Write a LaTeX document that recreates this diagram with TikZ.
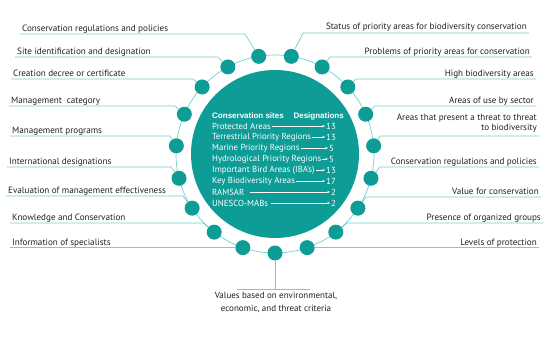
\documentclass[tikz,border=0pt]{standalone}
\usepackage{fontspec}
\setmainfont{PT Sans}
\newfontfamily\headfont{Liberation Sans}
\usetikzlibrary{arrows.meta,calc}
\definecolor{Teal}{HTML}{0E9C96}
\definecolor{Wire}{HTML}{72CFCA}
\definecolor{Ink}{HTML}{231F20}
\tikzset{hub/.style={circle,fill=Teal,minimum size=168pt,inner sep=0pt},
  dot/.style={circle,fill=Teal,minimum size=15pt,inner sep=0pt},
  wire/.style={draw=Wire,line width=0.7pt},
  lbl/.style={font=\fontsize{9.1}{10}\selectfont,text=Ink,inner xsep=2pt,inner ysep=0pt},
  lbll/.style={lbl,anchor=base west},
  lblr/.style={lbl,anchor=base east,align=right},
  site/.style={font=\fontsize{8.8}{9}\selectfont,text=white,inner xsep=1pt,inner ysep=0pt,anchor=west},
  head/.style={site,font=\headfont\fontsize{8}{9}\selectfont\bfseries},
  num/.style={site,anchor=east},
  tally/.style={-{Stealth[length=2.6pt,width=2.4pt]},draw=white,line width=0.45pt}}
\begin{document}
\begin{tikzpicture}[x=1pt,y=-1pt]
  \useasboundingbox (0,0) rectangle (550,356);
  \coordinate (ctr) at (275,154);
  \draw[wire] (ctr) circle[radius=99];
  \node[hub] (hub) at (ctr) {};
  \foreach \k in {0,...,18}
    \node[dot] (d\k) at ($(ctr)+({90-\k*360/19}:99)$) {};

  % left side
  \node[lbll] (t10) at (20,31) {Conservation regulations and policies};
  \node[lbll] (t11) at (15,54) {Site identification and designation};
  \node[lbll] (t12) at (11,76) {Creation decree or certificate};
  \node[lbll] (t13) at (9,103) {Management\ \ category};
  \node[lbll] (t14) at (10,133) {Management programs};
  \node[lbll] (t15) at (7,164) {International designations};
  \node[lbll] (t16) at (6,193) {Evaluation of management effectiveness};
  \node[lbll] (t17) at (10,220) {Knowledge and Conservation};
  \node[lbll] (t18) at (10,245) {Information of specialists};
  \coordinate (k10) at (245,34);
  \coordinate (k11) at (218,57);
  \coordinate (k12) at (193,79);
  \coordinate (k13) at (175,106);
  \coordinate (k14) at (170,136);
  \coordinate (k15) at (171,167);
  \coordinate (k16) at (183,196);
  \coordinate (k17) at (203,223);
  \draw[wire] (d10) -- (k10) -- (k10 -| t10.west);
  \draw[wire] (d11) -- (k11) -- (k11 -| t11.west);
  \draw[wire] (d12) -- (k12) -- (k12 -| t12.west);
  \draw[wire] (d13) -- (k13) -- (k13 -| t13.west);
  \draw[wire] (d14) -- (k14) -- (k14 -| t14.west);
  \draw[wire] (d15) -- (k15) -- (k15 -| t15.west);
  \draw[wire] (d16) -- (k16) -- (k16 -| t16.west);
  \draw[wire] (d17) -- (k17) -- (k17 -| t17.west);
  \draw[wire] (d18) -- (d18 -| t18.west);

  % right side
  \node[lblr] (t9) at (529,30) {Status of priority areas for biodiversity conservation};
  \node[lblr] (t8) at (532,54) {Problems of priority areas for conservation};
  \node[lblr] (t7) at (536,76) {High biodiversity areas};
  \node[lblr] (t6) at (536,103) {Areas of use by sector};
  \node[lblr,anchor=south east] (t5) at (539,133) {Areas that present a threat to threat\\to biodiversity};
  \node[lblr] (t4) at (539,164) {Conservation regulations and policies};
  \node[lblr] (t3) at (541,194) {Value for conservation};
  \node[lblr] (t2) at (543,220) {Presence of organized groups};
  \node[lblr] (t1) at (539,245) {Levels of protection};
  \coordinate (k9) at (303,33);
  \coordinate (k8) at (330,57);
  \coordinate (k7) at (356,79);
  \coordinate (k6) at (375,106);
  \coordinate (k5) at (380,136);
  \coordinate (k4) at (380,167);
  \coordinate (k3) at (366,197);
  \coordinate (k2) at (347,223);
  \draw[wire] (d9) -- (k9) -- (k9 -| t9.east);
  \draw[wire] (d8) -- (k8) -- (k8 -| t8.east);
  \draw[wire] (d7) -- (k7) -- (k7 -| t7.east);
  \draw[wire] (d6) -- (k6) -- (k6 -| t6.east);
  \draw[wire] (d5) -- (k5) -- (k5 -| t5.east);
  \draw[wire] (d4) -- (k4) -- (k4 -| t4.east);
  \draw[wire] (d3) -- (k3) -- (k3 -| t3.east);
  \draw[wire] (d2) -- (k2) -- (k2 -| t2.east);
  \draw[wire] (d1) -- (d1 -| t1.east);

  % bottom
  \coordinate (b0) at (275,289);
  \coordinate (bl) at (237,289);
  \coordinate (br) at (310,289);
  \draw[wire] (d0) -- (b0);
  \draw[wire] (bl) -- (br);
  \node[lbl,align=center,anchor=north,font=\fontsize{9}{12.5}\selectfont] (t0) at (276,292)
    {Values based on environmental,\\economic, and threat criteria};

  % inside the hub
  \node[head] (hs) at (211,116) {Conservation sites};
  \node[head,anchor=east] (hd) at (345,116) {Designations};
  \node[site] (s1) at (211,126) {Protected Areas};
  \node[site] (s2) at (211,137) {Terrestrial Priority Regions};
  \node[site] (s3) at (211,148) {Marine Priority Regions};
  \node[site] (s4) at (211,159) {Hydrological Priority Regions};
  \node[site] (s5) at (211,170) {Important Bird Areas (IBA's)};
  \node[site] (s6) at (211,181) {Key Biodiversity Areas};
  \node[site] (s7) at (211,192) {RAMSAR};
  \node[site] (s8) at (211,203) {UNESCO-MABs};
  \node[num] (n1) at (337,126) {13};
  \node[num] (n2) at (337,137) {13};
  \node[num] (n3) at (335,148) {5};
  \node[num] (n4) at (335,159) {5};
  \node[num] (n5) at (337,170) {13};
  \node[num] (n6) at (337,181) {17};
  \node[num] (n7) at (337,192) {2};
  \node[num] (n8) at (337,203) {2};
  \draw[tally] (s1) -- (n1);
  \draw[tally] (s2) -- (n2);
  \draw[tally] (s3) -- (n3);
  \draw[tally] (s4) -- (n4);
  \draw[tally] (s5) -- (n5);
  \draw[tally] (s6) -- (n6);
  \draw[tally,shorten <=4pt] (s7) -- (n7);
  \draw[tally,shorten <=2pt] (s8) -- (n8);
\end{tikzpicture}
\end{document}
